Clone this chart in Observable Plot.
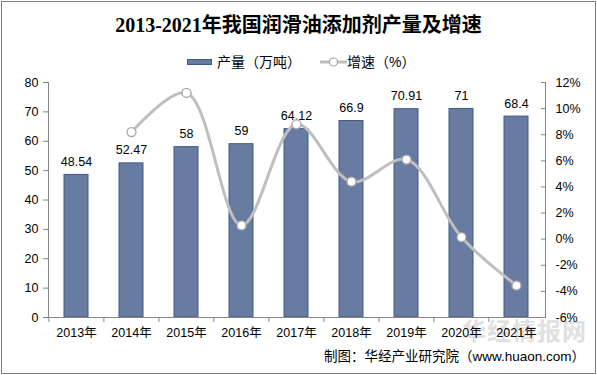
<!DOCTYPE html>
<html><head><meta charset="utf-8">
<script src="https://cdn.jsdelivr.net/npm/d3@7"></script>
<script src="https://cdn.jsdelivr.net/npm/@observablehq/plot@0.6"></script>
<style>
html,body{margin:0;padding:0;background:#fff;}
#page{position:relative;width:597px;height:375px;overflow:hidden;font-family:"Liberation Sans",Arial,"Noto Sans CJK SC",sans-serif;color:#000;}
#border{position:absolute;left:1px;top:1px;width:593px;height:371px;border:1px solid #7f7f7f;pointer-events:none;}
#title{position:absolute;top:12px;left:0;width:597px;text-align:center;font-weight:bold;font-size:20px;font-family:"Liberation Serif","Noto Sans CJK SC",serif;line-height:26px;}
#legend{position:absolute;top:52px;left:0;width:597px;height:20px;font-size:14px;font-family:"Liberation Sans","Noto Sans CJK SC",sans-serif;}
#legend .item{position:absolute;top:0;height:20px;line-height:20px;white-space:nowrap;}
#watermark{position:absolute;left:462px;top:312px;font:bold 24px "Noto Sans CJK SC",sans-serif;color:#e0e0e0;letter-spacing:1px;}
#chart{position:absolute;top:70px;left:0;}
#caption{position:absolute;top:345px;right:12px;font-size:13.5px;font-family:"Liberation Sans","Noto Sans CJK SC",sans-serif;white-space:nowrap;}
</style>
</head><body>
<div id="page">
  <div id="watermark">华经情报网</div>
  <div id="title"></div>
  <div id="legend"></div>
  <div id="chart"></div>
  <div id="caption"></div>
  <div id="border"></div>
</div>
<script>
// ---- data ----
const titleText = "2013-2021年我国润滑油添加剂产量及增速";
const captionText = "制图：华经产业研究院（www.huaon.com）";
const seriesNames = ["产量（万吨）", "增速（%）"];
const years = ["2013年","2014年","2015年","2016年","2017年","2018年","2019年","2020年","2021年"];
const output = [48.54, 52.47, 58, 59, 64.12, 66.9, 70.91, 71, 68.4];
const growthYears = ["2014年","2015年","2016年","2017年","2018年","2019年","2020年","2021年"];
const growth = [8.2, 11.2, 1.05, 8.8, 4.4, 6.1, 0.15, -3.55];
const leftTicks = [0,10,20,30,40,50,60,70,80];
const rightTicks = [-6,-4,-2,0,2,4,6,8,10,12];

// ---- styles ----
const barFill = "#687ba1";
const barStroke = "#3f5a8a";
const lineColor = "#bfbfbf";

document.getElementById("title").textContent = titleText;
document.getElementById("caption").textContent = captionText;

const legend = document.getElementById("legend");
legend.innerHTML =
  `<div class="item" style="left:187px"><span style="display:inline-block;width:25px;height:6px;background:${barFill};border:1px solid ${barStroke};box-sizing:border-box;vertical-align:middle;margin-right:5px;position:relative;top:-1px"></span>${seriesNames[0]}</div>` +
  `<div class="item" style="left:320px"><svg width="27" height="12" style="vertical-align:middle;position:relative;top:-1px"><line x1="0" x2="27" y1="6" y2="6" stroke="${lineColor}" stroke-width="3"/><circle cx="13.5" cy="6" r="4" fill="#fff" stroke="#a6a6a6" stroke-width="1.2"/></svg>${seriesNames[1]}</div>`;

const table = years.map((y, i) => ({year: y, value: output[i]}));
const gtable = growthYears.map((y, i) => ({year: y, g: growth[i]}));

// map right-axis (growth %) onto the left scale domain [0,80]
const gmin = -6, gmax = 12, vmax = 80;
const g2v = g => (g - gmin) * vmax / (gmax - gmin);
const v2g = v => v * (gmax - gmin) / vmax + gmin;

const W = 597, H = 280, mL = 48, mR = 52, mT = 12, mB = 33;
const step = (W - mL - mR) / years.length;

const chart = Plot.plot({
  width: W, height: H,
  marginLeft: mL, marginRight: mR, marginTop: mT, marginBottom: mB,
  style: {fontFamily: '"Liberation Sans", Arial, "Noto Sans CJK SC", sans-serif', fontSize: "12px", color: "#000", background: "transparent", overflow: "visible"},
  x: {type: "band", domain: years, paddingInner: 0.56, paddingOuter: 0.28},
  y: {domain: [0, vmax]},
  marks: [
    Plot.barY(table, {x: "year", y: "value", fill: barFill, stroke: barStroke, strokeWidth: 1}),
    Plot.text(table, {x: "year", y: "value", text: d => String(d.value), dy: -13, fontSize: 12.5, fill: "#000"}),
    Plot.line(gtable, {x: "year", y: d => g2v(d.g), stroke: lineColor, strokeWidth: 3, curve: "catmull-rom"}),
    Plot.dot(gtable, {x: "year", y: d => g2v(d.g), r: 4.5, fill: "#fff", stroke: "#a6a6a6", strokeWidth: 1.3}),
    Plot.frame({anchor: "left", stroke: "#868686"}),
    Plot.frame({anchor: "right", stroke: "#868686"}),
    Plot.frame({anchor: "bottom", stroke: "#868686"}),
    Plot.axisY({anchor: "left", ticks: leftTicks, tickSize: 5, tickPadding: 5, label: null, stroke: "#868686", fontSize: 12.5}),
    Plot.axisY({anchor: "right", ticks: rightTicks.map(g2v), tickFormat: v => Math.round(v2g(v)) + "%", tickSize: -5, tickPadding: 15, label: null, stroke: "#868686", textAnchor: "start", fontSize: 12.5}),
    Plot.axisX({anchor: "bottom", tickSize: 5, text: null, label: null, dx: -step / 2, stroke: "#868686"}),
    Plot.axisX({anchor: "bottom", tickSize: 0, tickPadding: 11, label: null, fontSize: 12.5})
  ]
});
document.getElementById("chart").appendChild(chart);
</script>
</body></html>
